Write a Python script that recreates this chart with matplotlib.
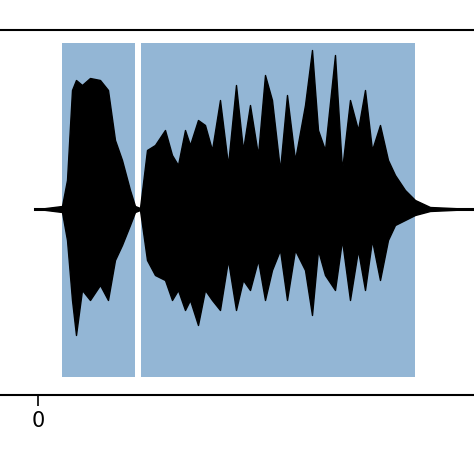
import numpy as np
import matplotlib
matplotlib.use("Agg")
import matplotlib.pyplot as plt

# envelope (time, upper, lower)
t = [0.0, 0.24, 0.29, 0.34, 0.38, 0.44, 0.52, 0.62, 0.70, 0.77, 0.84, 0.92, 0.97,
     1.02, 1.09, 1.17, 1.27, 1.34, 1.40, 1.47, 1.52, 1.60, 1.67, 1.74, 1.82, 1.90,
     1.98, 2.05, 2.12, 2.20, 2.27, 2.34, 2.42, 2.49, 2.57, 2.67, 2.74, 2.80, 2.87,
     2.97, 3.04, 3.12, 3.20, 3.27, 3.34, 3.42, 3.50, 3.57, 3.67, 3.77, 3.92, 4.36]
upper = [0.0, 0.03, 0.29, 1.19, 1.29, 1.24, 1.31, 1.29, 1.19, 0.69, 0.49, 0.19, 0.03,
         0.01, 0.59, 0.64, 0.79, 0.54, 0.44, 0.79, 0.64, 0.89, 0.84, 0.59, 1.09, 0.44,
         1.24, 0.59, 1.04, 0.54, 1.34, 1.09, 0.39, 1.14, 0.49, 1.04, 1.59, 0.79, 0.59,
         1.54, 0.39, 1.09, 0.79, 1.19, 0.59, 0.84, 0.49, 0.34, 0.19, 0.09, 0.02, 0.0]
lower = [0.0, -0.03, -0.31, -0.91, -1.26, -0.81, -0.91, -0.76, -0.91, -0.51, -0.36, -0.16, -0.03,
         -0.01, -0.51, -0.66, -0.71, -0.91, -0.81, -1.01, -0.91, -1.16, -0.81, -0.91, -1.01, -0.51,
         -1.01, -0.71, -0.81, -0.51, -0.91, -0.61, -0.41, -0.91, -0.41, -0.61, -1.06, -0.41, -0.66,
         -0.81, -0.31, -0.91, -0.41, -0.81, -0.31, -0.71, -0.31, -0.16, -0.11, -0.06, -0.02, 0.0]

segments = [(0.24, 0.97), (1.03, 3.77)]
seg_bottom, seg_top = -1.68, 1.66

fig = plt.figure(figsize=(4.74, 4.74), dpi=100)
ax = fig.add_axes([0, 1 - 395 / 474, 1, 365 / 474])

for a, b in segments:
    ax.axvspan(a, b, ymin=(seg_bottom + 1.86) / 3.65, ymax=(seg_top + 1.86) / 3.65,
               color="#93b6d5", lw=0)

ax.fill_between(t, lower, upper, color="black", lw=1, edgecolor="black")
ax.plot([-0.03, t[-1]], [0, 0], color="black", lw=2.2)

ax.set_xlim(-0.38, 4.36)
ax.set_ylim(-1.86, 1.79)
ax.set_xticks([0])
ax.set_xticklabels(["0"], fontsize=15)
ax.set_yticks([])
ax.tick_params(axis="x", length=8, width=1.2)
for s in ["left", "right"]:
    ax.spines[s].set_visible(False)
for s in ["top", "bottom"]:
    ax.spines[s].set_linewidth(1.5)

fig.savefig("out.png", dpi=100)
